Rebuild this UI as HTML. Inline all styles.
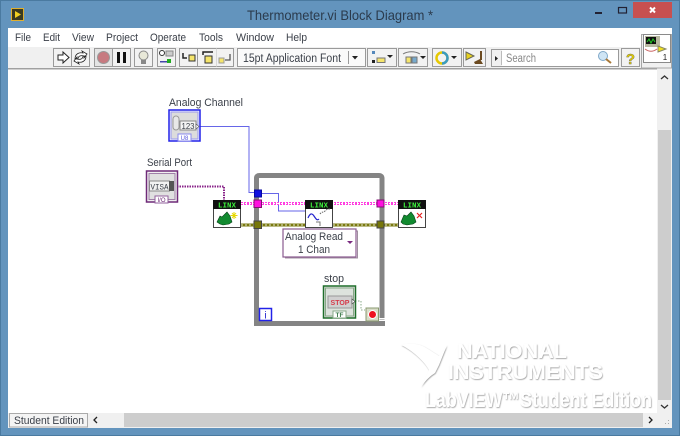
<!DOCTYPE html>
<html><head><meta charset="utf-8"><style>
html,body{margin:0;padding:0;background:#6394bd;overflow:hidden}
svg{display:block;filter:blur(.25px)}
text{font-family:"Liberation Sans",sans-serif;fill:#3a3f48}
</style></head><body>
<svg width="680" height="436" viewBox="0 0 680 436" xmlns="http://www.w3.org/2000/svg">
<defs>
<filter id="wm" x="-5%" y="-20%" width="110%" height="140%"><feDropShadow dx="0.6" dy="0.8" stdDeviation="0.6" flood-color="#999"/></filter></defs>
<rect width="680" height="436" fill="#6394bd"/>
<rect x="0.5" y="0.5" width="679" height="435" fill="none" stroke="#4a7aa0"/>
<!-- title bar -->
<rect x="11.500" y="8.500" width="12" height="12" fill="#3a3a20" stroke="#e0b030"/>
<path d="M15 11l6 3.500-6 3.500z" fill="#f0d020"/>
<text x="247" y="20" font-size="14" textLength="186" lengthAdjust="spacingAndGlyphs" style="fill:#2b3b4d">Thermometer.vi Block Diagram *</text>
<rect x="633" y="2" width="39" height="16" fill="#c75050"/>
<path d="M650 7.500l5 5M655 7.500l-5 5" stroke="#fff" stroke-width="2"/>
<rect x="595" y="12" width="7" height="2" fill="#223"/>
<rect x="618.500" y="7.500" width="8" height="5.500" fill="none" stroke="#223" stroke-width="1.200"/>
<!-- menu -->
<rect x="8" y="28" width="664" height="19" fill="#fff"/>
<g font-size="11"><text x="15" y="41" textLength="16" lengthAdjust="spacingAndGlyphs">File</text><text x="43" y="41" textLength="17" lengthAdjust="spacingAndGlyphs">Edit</text><text x="72" y="41" textLength="22" lengthAdjust="spacingAndGlyphs">View</text><text x="106" y="41" textLength="32" lengthAdjust="spacingAndGlyphs">Project</text><text x="150" y="41" textLength="36" lengthAdjust="spacingAndGlyphs">Operate</text><text x="199" y="41" textLength="24" lengthAdjust="spacingAndGlyphs">Tools</text><text x="236" y="41" textLength="38" lengthAdjust="spacingAndGlyphs">Window</text><text x="286" y="41" textLength="21" lengthAdjust="spacingAndGlyphs">Help</text></g>
<!-- toolbar -->
<rect x="8" y="47" width="664" height="22" fill="#f0f0f0"/>
<rect x="8" y="68" width="649" height="1.500" fill="#a0a0a0"/>
<g fill="#f2f2f2" stroke="#9a9a9a">
<rect x="53.500" y="48.500" width="36" height="18"/><line x1="71.500" y1="48.500" x2="71.500" y2="66.500"/>
<rect x="94.500" y="48.500" width="36" height="18"/><line x1="112.500" y1="48.500" x2="112.500" y2="66.500"/>
<rect x="134.500" y="48.500" width="18" height="18"/>
<rect x="157.500" y="48.500" width="18" height="18"/>
<rect x="179.500" y="48.500" width="54" height="18"/><line x1="197.500" y1="48.500" x2="197.500" y2="66.500"/><line x1="216.500" y1="48.500" x2="216.500" y2="66.500" stroke="#d8d8d8"/>
<rect x="237.500" y="48.500" width="128" height="18" fill="#fafafa"/><line x1="348.500" y1="51" x2="348.500" y2="64"/>
<rect x="367.500" y="48.500" width="29" height="18"/>
<rect x="398.500" y="48.500" width="29" height="18"/>
<rect x="432.500" y="48.500" width="29" height="18"/>
<rect x="463.500" y="48.500" width="22" height="18"/>
<rect x="491.500" y="49.500" width="127" height="17" fill="#fff"/>
<rect x="621.500" y="48.500" width="18" height="18"/>
<rect x="641.500" y="34.500" width="30" height="33.500" fill="#f0f0f0" stroke="#a8a8a8"/>
</g>
<path d="M58 55h5v-3l6 5.500-6 5.500v-3h-5z" fill="#fff" stroke="#222"/>
<path d="M75 59c0-5 4-7 8-6l-1-2 5 3-3 4v-2c-3-1-6 0-6 3zM86 56c0 5-4 7-8 6l1 2-5-3 3-4v2c3 1 6 0 6-3z" fill="#fff" stroke="#222" stroke-width=".8"/>
<rect x="95" y="49" width="17" height="17" fill="#e4e4e4"/>
<circle cx="103.500" cy="57.500" r="6" fill="#c77a80" stroke="#999"/>
<rect x="117" y="52" width="3" height="11" fill="#111"/><rect x="123" y="52" width="3" height="11" fill="#111"/>
<circle cx="143.500" cy="55.500" r="4.500" fill="#e8e8d8" stroke="#888"/><rect x="141" y="60" width="5" height="4" fill="#888"/>
<circle cx="162" cy="53" r="2.500" fill="#fff" stroke="#333"/><rect x="166" y="51" width="7" height="5" fill="#ccc" stroke="#888"/><rect x="160" y="61" width="7" height="1.500" fill="#44a"/><rect x="167" y="59" width="4" height="4" fill="#2a2"/>
<g fill="none" stroke="#222" stroke-width="1.500"><path d="M183 53v5h4"/><path d="M203 55v-3h10"/></g>
<rect x="189" y="55" width="6" height="6" fill="#f5e56b" stroke="#333"/>
<rect x="205" y="56" width="7" height="7" fill="#f5e56b" stroke="#333"/>
<rect x="219" y="58" width="5" height="5" fill="#f5e56b" stroke="#999"/>
<path d="M225 60h5v-6" fill="none" stroke="#555" stroke-width="1.300"/>
<text x="243" y="62" font-size="11.500" textLength="98" lengthAdjust="spacingAndGlyphs">15pt Application Font</text>
<path d="M352 56h6l-3 3.500z" fill="#222"/>
<rect x="372" y="51" width="3" height="3" fill="#5588bb"/><rect x="372" y="60" width="3" height="3" fill="#222"/><rect x="377" y="58" width="8" height="4.500" fill="#f5e56b" stroke="#777"/><path d="M387 55h6l-3 3z" fill="#222"/>
<rect x="406" y="57" width="5" height="6" fill="#f5e56b" stroke="#777"/><rect x="412" y="57" width="5" height="6" fill="#7ac" stroke="#777"/><path d="M403 54c5-3 12-3 17 0" fill="none" stroke="#777"/><path d="M420 56h6l-3 3z" fill="#222"/>
<circle cx="442" cy="58" r="5.500" fill="none" stroke="#e6c800" stroke-width="2.500"/><path d="M442 52.500a5.500 5.500 0 0 1 0 11" fill="none" stroke="#3a9bc0" stroke-width="2.500"/><path d="M451 56h6l-3 3z" fill="#222"/>
<path d="M466 52l8 4-8 4z" fill="#e6d020" stroke="#665"/><path d="M474 62l6-3 3 5h-8z" fill="#6b4a20"/><rect x="480" y="51" width="2" height="9" fill="#6b4a20"/>
<rect x="492" y="50" width="10" height="16" fill="#f0f0f0"/>
<path d="M495 56l3 2.500-3 2.500z" fill="#222"/><line x1="501.500" y1="51" x2="501.500" y2="65" stroke="#bbb"/>
<text x="506" y="62" font-size="11.500" textLength="30" lengthAdjust="spacingAndGlyphs" style="fill:#888">Search</text>
<circle cx="603" cy="56" r="4.500" fill="#cfe5f5" stroke="#7fa8c8"/><path d="M606 59l5 4" stroke="#a87838" stroke-width="2"/>
<text x="630.500" y="64" font-size="15" font-weight="bold" text-anchor="middle" style="fill:#e6d000;stroke:#665;stroke-width:.4">?</text>
<!-- vi icon -->
<rect x="643.500" y="34.500" width="27" height="28" fill="#fff" stroke="#8a8a8a"/>
<rect x="645" y="36" width="15" height="11" fill="#b8b8a0"/><rect x="646" y="37" width="10" height="7" fill="#111"/>
<path d="M647 42l2-3 2 4 2-4 2 3" stroke="#2c2" fill="none"/>
<path d="M645 49c4 3 8 3 12 0" stroke="#c66" fill="none"/><path d="M658 46l8 3-8 3z" fill="#f0e020" stroke="#886"/>
<text x="665" y="60" font-size="8" text-anchor="middle" style="fill:#222">1</text>
<!-- diagram -->
<rect x="8" y="69.500" width="649" height="343.500" fill="#fff"/>
<!-- scrollbars -->
<rect x="657" y="69" width="15" height="344" fill="#f0f0f0"/>
<rect x="658" y="130" width="13" height="270" fill="#cdcdcd"/>
<path d="M661 79l3.500-3 3.500 3" fill="none" stroke="#333" stroke-width="1.300"/>
<path d="M661 405l3.500 3 3.500-3" fill="none" stroke="#333" stroke-width="1.300"/>
<rect x="8" y="413" width="664" height="15" fill="#f0f0f0"/>
<rect x="124" y="413" width="519" height="14" fill="#cdcdcd"/>
<rect x="9.500" y="413.500" width="78" height="13.500" fill="#f4f4f4" stroke="#aaa"/>
<text x="14" y="424" font-size="11" textLength="70" lengthAdjust="spacingAndGlyphs">Student Edition</text>
<path d="M97 417l-3 3 3 3" fill="none" stroke="#222" stroke-width="1.300"/>
<path d="M649 417l3 3-3 3" fill="none" stroke="#222" stroke-width="1.300"/>
<!-- watermark -->
<g filter="url(#wm)">
<path d="M401 345c10-3 20-1 27 4l11 7 8-11-8 20-4 8c-5 3-10 8-14 14l8-17c-4-8-17-20-28-25z" fill="#fff"/>
<text x="457" y="358" font-size="20" font-weight="bold" textLength="110" lengthAdjust="spacingAndGlyphs" style="fill:#fff">NATIONAL</text>
<text x="448" y="379" font-size="20" font-weight="bold" textLength="155" lengthAdjust="spacingAndGlyphs" style="fill:#fff">INSTRUMENTS</text>
<text x="425" y="407" font-size="21" font-weight="bold" textLength="227" lengthAdjust="spacingAndGlyphs" style="fill:#fff">LabVIEW™Student Edition</text>
</g>
<!-- wires -->
<path d="M199 126.500h50v66h8" fill="none" stroke="#6666e8"/>
<path d="M259 193.500h19.500v17.500h27" fill="none" stroke="#6666e8"/>
<line x1="241" y1="203.500" x2="400" y2="203.500" stroke="#ff40e0" stroke-width="3" stroke-dasharray="2 1"/>
<line x1="241" y1="203.500" x2="400" y2="203.500" stroke="#fff" stroke-width="1" stroke-dasharray="2 2"/>
<line x1="241" y1="225" x2="400" y2="225" stroke="#7a7a10" stroke-width="3"/>
<line x1="241" y1="225" x2="400" y2="225" stroke="#fff" stroke-width="1" stroke-dasharray="2 2" stroke-opacity=".8"/>
<path d="M177 186.500h47v14" fill="none" stroke="#882288" stroke-width="2" stroke-dasharray="1.500 1"/>
<path d="M355 301h6v9h4" fill="none" stroke="#88aa88" stroke-dasharray="1.500 1.500"/>
<!-- loop -->
<path d="M256.500 323V178q0-2.500 3-2.500H379q3 0 3 3V320" fill="none" stroke="#848484" stroke-width="5"/>
<path d="M254 323.500H385" stroke="#848484" stroke-width="5"/>
<rect x="254.500" y="190" width="7" height="7" fill="#1010e0" stroke="#0808a0"/>
<rect x="254" y="200" width="7.500" height="7.500" fill="#ff10e0" stroke="#801070"/>
<rect x="254" y="221" width="7.500" height="7.500" fill="#77770a" stroke="#444"/>
<rect x="377" y="200" width="7" height="7" fill="#ff10e0" stroke="#801070"/>
<rect x="377" y="221" width="7" height="7" fill="#77770a" stroke="#444"/>
<!-- Analog channel -->
<rect x="169" y="110" width="31" height="31" fill="#f4f4ff" stroke="#2222e8" stroke-width="1.500"/>
<rect x="171" y="112" width="27" height="27" fill="#dcdcdc" stroke="#9999ee"/>
<rect x="173" y="116" width="6" height="14" rx="3" fill="#e8e8e8" stroke="#999"/>
<rect x="180" y="121" width="16" height="9" fill="#f4f4f4" stroke="#888"/>
<text x="181.500" y="129" font-size="8" textLength="13" lengthAdjust="spacingAndGlyphs">123</text>
<path d="M196 124l3 2.500-3 2.500z" fill="#fff" stroke="#555" stroke-width=".6"/>
<rect x="178" y="134" width="13" height="7" fill="#fff" stroke="#8888ee"/>
<text x="184.500" y="140" font-size="6" text-anchor="middle" style="fill:#5555dd">U8</text>
<!-- Serial port -->
<rect x="146.500" y="171" width="31" height="31" fill="#f0f0f0" stroke="#6f2a78" stroke-width="1.500"/>
<rect x="149" y="173.500" width="26" height="26" fill="#e0e0e0" stroke="#a080a8"/>
<rect x="149.500" y="181" width="20" height="10" fill="#f2f2f2" stroke="#888"/>
<rect x="169" y="181" width="5" height="10" fill="#555"/>
<text x="150.500" y="189.500" font-size="8" textLength="18" lengthAdjust="spacingAndGlyphs" style="font-family:'Liberation Mono'">VISA</text>
<rect x="155" y="196" width="13" height="7" fill="#fff" stroke="#92609c"/>
<text x="161.500" y="202" font-size="6" text-anchor="middle" style="fill:#6f2a78">I/O</text>
<!-- LINX Open -->
<rect x="213.500" y="200.500" width="27" height="27" fill="#fff" stroke="#444"/>
<rect x="213" y="200" width="28" height="9" fill="#111"/>
<text x="227" y="207.500" font-size="7.500" font-weight="bold" text-anchor="middle" style="fill:#3cf03c;font-family:'Liberation Mono'">LINX</text>
<path d="M217 222l3-6 2 1 5-5 3 4 2 6-3 2-6 1-3-1z" fill="#128a30" stroke="#064018" stroke-width=".6"/>
<path d="M234 212l0 7M230.500 215.500h7M232 213l4 5M236 213l-4 5" stroke="#e6d800" stroke-width="1"/>
<!-- LINX Read -->
<rect x="305.500" y="200.500" width="27" height="27" fill="#fff" stroke="#444"/>
<rect x="305" y="200" width="28" height="9" fill="#111"/>
<text x="319" y="207.500" font-size="7.500" font-weight="bold" text-anchor="middle" style="fill:#3cf03c;font-family:'Liberation Mono'">LINX</text>
<path d="M308 218c2-5 4-5 6-2s3 5 5 3" fill="none" stroke="#2222cc" stroke-width="1.200"/>
<path d="M320 214c2-3 3-1 5-3s3-2 5-2" fill="none" stroke="#666" stroke-dasharray="1.500 1"/>
<path d="M316 222h4v4" fill="none" stroke="#777"/>
<!-- LINX Close -->
<rect x="398.500" y="200.500" width="27" height="27" fill="#fff" stroke="#444"/>
<rect x="398" y="200" width="28" height="9" fill="#111"/>
<text x="412" y="207.500" font-size="7.500" font-weight="bold" text-anchor="middle" style="fill:#3cf03c;font-family:'Liberation Mono'">LINX</text>
<path d="M401 222l3-7 3 1 4-4 3 4 2 6-3 2-6 1-4-1z" fill="#128a30" stroke="#064018" stroke-width=".6"/>
<path d="M417 213l5 5M422 213l-5 5" stroke="#e82020" stroke-width="1.200"/>
<!-- polymorphic selector -->
<rect x="285.500" y="231" width="72" height="27" fill="#fff" stroke="#a090a0"/>
<rect x="283" y="229" width="73" height="28" fill="#fff" stroke="#8a5a90" stroke-width="1.200"/>
<path d="M347 241h6l-3 3z" fill="#7a2a80"/>
<!-- stop -->
<rect x="323.500" y="286" width="32" height="32" fill="#e0e0e0" stroke="#1f6f2a" stroke-width="1.500"/>
<rect x="325.500" y="288" width="28" height="28" fill="#dde3dd" stroke="#88a888"/>
<rect x="328" y="296" width="24" height="12" fill="#d0d0d0" stroke="#999"/>
<text x="340" y="305" font-size="7" font-weight="bold" text-anchor="middle" style="fill:#d63a4a">STOP</text>
<path d="M352 299l3 2.500-3 2.500z" fill="#fff" stroke="#444" stroke-width=".6"/>
<rect x="333" y="311" width="13" height="7" fill="#fff" stroke="#88a888"/>
<text x="339.500" y="317" font-size="6.500" font-weight="bold" text-anchor="middle" style="fill:#3a7a48">TF</text>
<!-- iteration + stop terminal -->
<rect x="259.500" y="308.500" width="12" height="12" fill="#fff" stroke="#2222e8" stroke-width="1.500"/>
<text x="265.500" y="318.500" font-size="10" text-anchor="middle" style="fill:#2222cc">i</text>
<rect x="366" y="308" width="12.500" height="13" fill="#d8dcc8" stroke="#8a9a70"/>
<circle cx="372.500" cy="314.500" r="4" fill="#ee1020" stroke="#fff"/>
<rect x="379" y="318" width="6" height="1.500" fill="#fff"/>
<!-- labels -->
<g font-size="11">
<text x="169" y="106" textLength="74" lengthAdjust="spacingAndGlyphs">Analog Channel</text>
<text x="147" y="166" textLength="45" lengthAdjust="spacingAndGlyphs">Serial Port</text>
<text x="324" y="282" textLength="20" lengthAdjust="spacingAndGlyphs">stop</text>
<text x="285" y="240" textLength="58" lengthAdjust="spacingAndGlyphs">Analog Read</text>
<text x="298" y="253" textLength="32" lengthAdjust="spacingAndGlyphs">1 Chan</text>
</g>
<!-- resize grip -->
<g fill="#aaa"><rect x="668" y="423" width="1" height="1"/><rect x="665" y="423" width="1" height="1"/><rect x="668" y="420" width="1" height="1"/></g>
</svg>
</body></html>
